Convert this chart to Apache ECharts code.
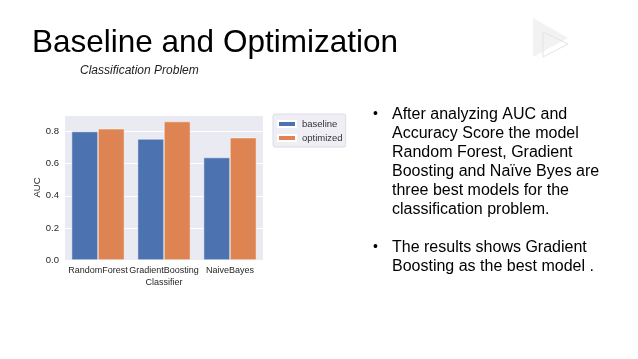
<!DOCTYPE html>
<html><head><meta charset="utf-8">
<script src="https://cdn.jsdelivr.net/npm/echarts@6/dist/echarts.min.js"></script>
<style>html,body{margin:0;padding:0;background:#fff}#c{width:638px;height:359px}</style>
</head><body><div id="c"></div>
<script>
const categories = ['RandomForest', 'GradientBoosting\nClassifier', 'NaiveBayes'];
const baseline = [0.800, 0.754, 0.638];
const optimized = [0.817, 0.862, 0.762];
const yTicks = [0, 0.2, 0.4, 0.6, 0.8];
const seriesNames = ['baseline', 'optimized'];

const chart = echarts.init(document.getElementById('c'));
const font = 'Liberation Sans, Arial, sans-serif';
chart.setOption({
  animation: false,
  backgroundColor: '#ffffff',
  title: [
    {text: 'Baseline and Optimization', left: 27, top: 22,
     textStyle: {fontFamily: font, fontSize: 31.5, fontWeight: 'normal', color: '#000'}},
    {text: 'Classification Problem', left: 75, top: 60,
     textStyle: {fontFamily: font, fontSize: 12, fontStyle: 'italic', fontWeight: 'normal', color: '#222'}}
  ],
  graphic: [
    {type: 'polygon', shape: {points: [[533,18],[568,38],[533,57]]}, style: {fill: '#f2f2f2'}},
    {type: 'polygon', shape: {points: [[543,32],[568,44],[543,57]]}, style: {fill: 'none', stroke: '#e4e4e4', lineWidth: 1}},
    {type: 'text', left: 373, top: 105, style: {text: '•', font: '14px ' + font, fill: '#000', lineHeight: 19}},
    {type: 'text', left: 392, top: 105, style: {
      text: 'After analyzing AUC and\nAccuracy Score the model\nRandom Forest, Gradient\nBoosting and Naïve Byes are\nthree best models for the\nclassification problem.',
      font: '16px ' + font, fill: '#000', lineHeight: 19}},
    {type: 'text', left: 373, top: 238, style: {text: '•', font: '14px ' + font, fill: '#000', lineHeight: 19}},
    {type: 'text', left: 392, top: 238, style: {
      text: 'The results shows Gradient\nBoosting as the best model .',
      font: '16px ' + font, fill: '#000', lineHeight: 19}}
  ],
  legend: {
    data: seriesNames, orient: 'vertical', left: 273, top: 114,
    itemWidth: 18, itemHeight: 6, itemGap: 4, padding: [5, 3, 4, 4],
    backgroundColor: '#eeeef4', borderColor: '#dcdce4', borderWidth: 1, borderRadius: 2,
    icon: 'rect',
    textStyle: {fontFamily: font, fontSize: 9.5, color: '#333', padding: [0, 0, 0, 1]}
  },
  grid: {left: 65, right: 375, top: 115, bottom: 99, show: true,
         backgroundColor: '#EAEAF2', borderWidth: 0},
  xAxis: {
    type: 'category', data: categories,
    axisLine: {show: false}, axisTick: {show: false},
    axisLabel: {fontFamily: font, fontSize: 9, color: '#262626', margin: 5, lineHeight: 12, interval: 0}
  },
  yAxis: {
    type: 'value', min: 0, max: 0.903, interval: 0.2,
    name: 'AUC', nameLocation: 'middle', nameGap: 20, nameRotate: 90,
    nameTextStyle: {fontFamily: font, fontSize: 9.5, color: '#262626'},
    axisLine: {show: false}, axisTick: {show: false},
    axisLabel: {fontFamily: font, fontSize: 9.5, color: '#262626', margin: 6,
      formatter: v => yTicks.some(t => Math.abs(t - v) < 1e-6) ? v.toFixed(1) : ''},
    splitLine: {lineStyle: {color: '#ffffff', width: 1}}
  },
  series: [
    {name: seriesNames[0], type: 'bar', data: baseline, barGap: '0%', barCategoryGap: '20%',
     itemStyle: {color: '#4C72B0', borderColor: '#ffffff', borderWidth: 0.5}},
    {name: seriesNames[1], type: 'bar', data: optimized,
     itemStyle: {color: '#DD8452', borderColor: '#ffffff', borderWidth: 0.5}}
  ]
});
</script></body></html>
